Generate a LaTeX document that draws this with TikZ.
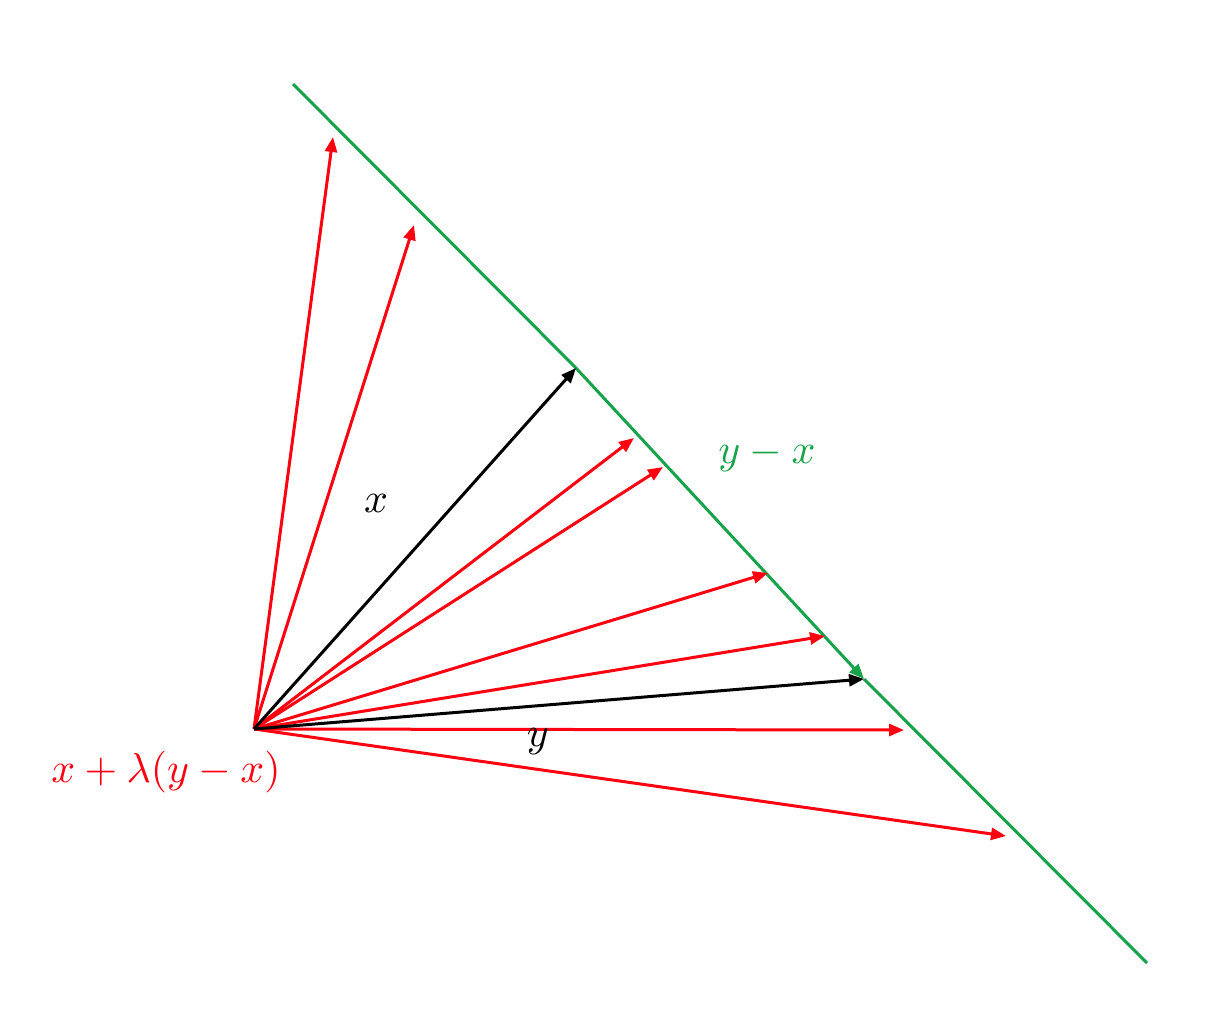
\documentclass[tikz,border=0pt]{standalone}
\usetikzlibrary{arrows.meta}
\definecolor{vred}{RGB}{255,0,16}
\definecolor{vgreen}{RGB}{22,163,74}
\begin{document}
\begin{tikzpicture}[x=1bp,y=-1bp,
  vec/.style={line width=3bp,-{Triangle[length=15bp,width=12bp]}},
  lbl/.style={inner sep=0pt,scale=4.2}]
\useasboundingbox (0,0) rectangle (1220,1012);
% origin and tips
\coordinate (O) at (254,729);
\coordinate (L0) at (293,84);
\coordinate (L1) at (1147,963);
\coordinate (X) at (576,368);
\coordinate (Y) at (864,679);
\coordinate (Yg) at (864,679);
\coordinate (r1) at (333,137);
\coordinate (r2) at (414,225);
\coordinate (r3) at (634,438);
\coordinate (r4) at (663,467);
\coordinate (r5) at (768,573);
\coordinate (r6) at (825,636);
\coordinate (r7) at (904,730);
\coordinate (r8) at (1006,836);
% green line (in three pieces)
\draw[vgreen,line width=3bp] (L0) -- (X);
\draw[vgreen,vec] (X) -- (Yg);
\draw[vgreen,line width=3bp] (Yg) -- (L1);
% red vectors
\foreach \t in {r1,r2,r3,r4,r5,r6,r7,r8}
  \draw[vred,vec] (O) -- (\t);
% black vectors
\draw[black,vec] (O) -- (X);
\draw[black,vec] (O) -- (Y);
% labels
\node[lbl] (lx) at (376,503) {$x$};
\node[lbl] (ly) at (538,742) {$y$};
\node[lbl,text=vgreen] (lyx) at (767,455) {$y-x$};
\node[lbl,text=vred] (lcomb) at (166,772) {$x+\lambda(y-x)$};
\end{tikzpicture}
\end{document}
